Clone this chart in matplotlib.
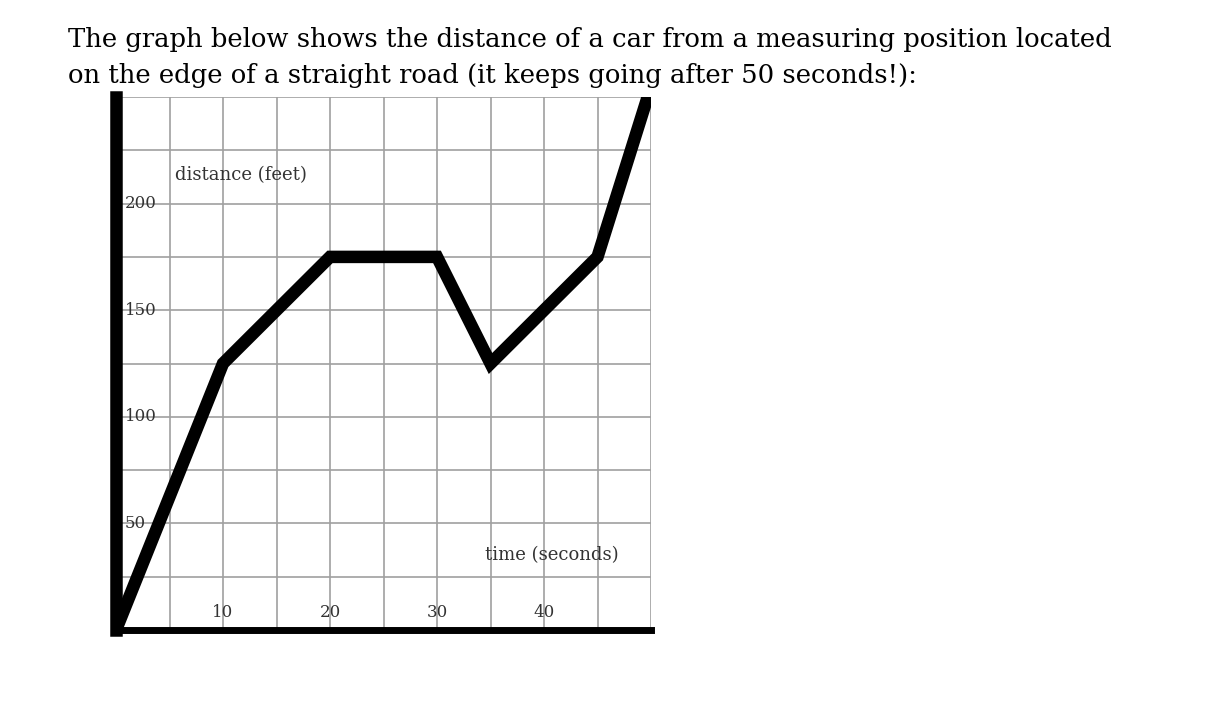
import matplotlib
matplotlib.use("Agg")
import matplotlib.pyplot as plt

time_s = [0, 10, 15, 20, 30, 35, 40, 45, 50]
dist_ft = [0, 125, 150, 175, 175, 125, 150, 175, 255]
x_labels = [10, 20, 30, 40]
y_labels = [50, 100, 150, 200]

W, H = 1214, 702
fig = plt.figure(figsize=(W/100, H/100), dpi=100)
fig.text(68/W, 1-40/H, "The graph below shows the distance of a car from a measuring position located",
         family="DejaVu Serif", fontsize=18.6, va="center")
fig.text(68/W, 1-76/H, "on the edge of a straight road (it keeps going after 50 seconds!):",
         family="DejaVu Serif", fontsize=18.6, va="center")

ax = fig.add_axes([116/W, 1-630/H, (651-116)/W, (630-97)/H])
ax.set_xlim(0, 50)
ax.set_ylim(0, 250)
for x in range(5, 51, 5):
    ax.axvline(x, color="#a0a0a0", lw=1.2, zorder=1)
for y in range(25, 251, 25):
    ax.axhline(y, color="#a0a0a0", lw=1.2, zorder=1)
ax.plot(time_s, dist_ft, color="black", lw=9, solid_joinstyle="miter", zorder=3, clip_on=True)
for s in ["top", "right"]:
    ax.spines[s].set_visible(False)
ax.spines["left"].set_linewidth(9)
ax.spines["bottom"].set_linewidth(5)
ax.set_xticks([]); ax.set_yticks([])
for v in y_labels:
    ax.text(0.8, v, str(v), fontsize=12, family="DejaVu Serif", va="center", ha="left", color="#333")
for v in x_labels:
    ax.text(v, 8, str(v), fontsize=12, family="DejaVu Serif", va="center", ha="center", color="#333")
ax.text(5.5, 211, "distance (feet)", fontsize=13, family="DejaVu Serif", color="#333")
ax.text(34.5, 33, "time (seconds)", fontsize=13, family="DejaVu Serif", color="#333")
fig.savefig("out.png", dpi=100)
